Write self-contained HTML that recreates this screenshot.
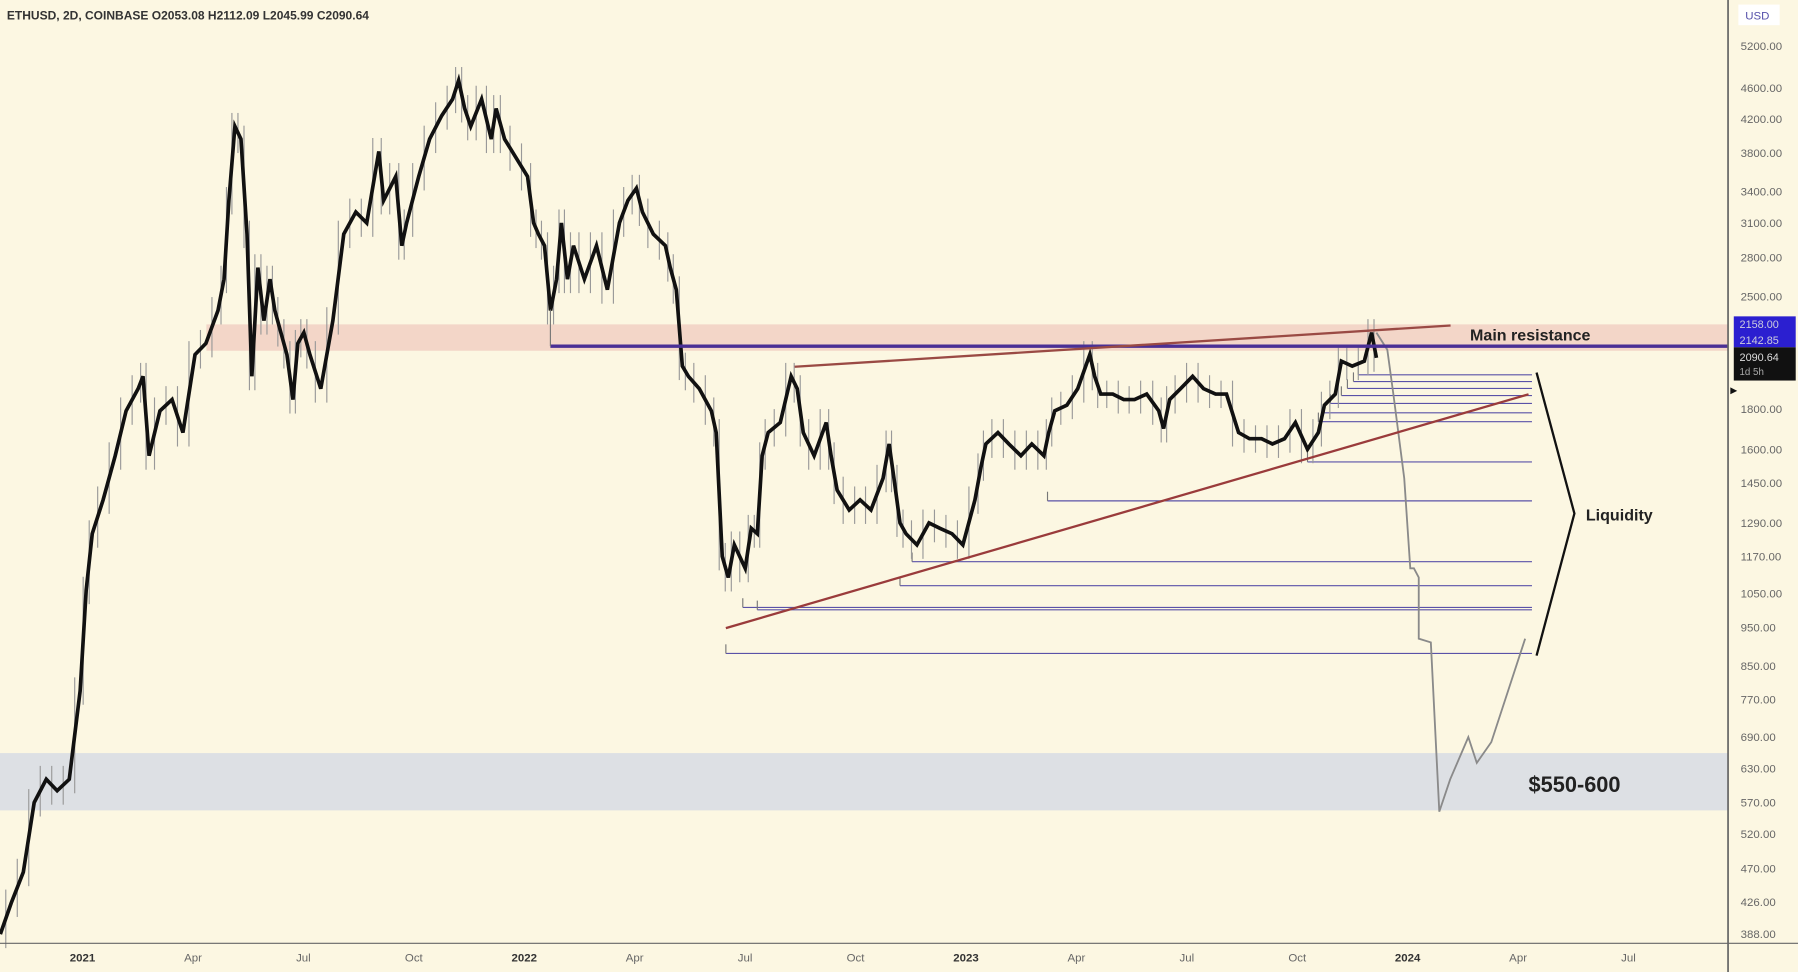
<!DOCTYPE html>
<html><head><meta charset="utf-8"><style>
html,body{margin:0;padding:0;background:#fcf7e2;}
svg{display:block;}
text{font-family:"Liberation Sans",sans-serif;}
</style></head><body>
<svg id="chart" width="1798" height="972" viewBox="0 0 1568 848" preserveAspectRatio="none" xmlns="http://www.w3.org/2000/svg">
<rect x="0" y="0" width="1568" height="848" fill="#fcf7e2"/>
<rect x="180" y="283" width="1327" height="23" fill="#f3d6c8"/>
<rect x="0" y="657" width="1507" height="50" fill="#dde0e4"/>
<g id="marks"></g>
<g id="annot">
<line x1="480" y1="302" x2="1507" y2="302" stroke="#4a2f95" stroke-width="3"/>
<line x1="480" y1="270" x2="480" y2="302" stroke="#777" stroke-width="1"/>
<line x1="693" y1="320" x2="1265" y2="284" stroke="#9a4a44" stroke-width="2"/>
<line x1="633" y1="548" x2="1333" y2="344" stroke="#9a3b3b" stroke-width="2"/>
<polyline points="1340,325 1373,448 1340,572" fill="none" stroke="#111" stroke-width="2"/>
<text x="1282" y="297" font-size="14" font-weight="bold" fill="#222">Main resistance</text>
<text x="1383" y="454" font-size="14" font-weight="bold" fill="#222">Liquidity</text>
<text x="1333" y="691" font-size="19" font-weight="bold" fill="#222">$550-600</text>
</g>
<line x1="1507" y1="0" x2="1507" y2="848" stroke="#666" stroke-width="1.5"/>
<line x1="0" y1="823" x2="1568" y2="823" stroke="#666" stroke-width="1"/>
<g id="yaxis"></g>
<g id="xaxis"></g>
<rect x="1516" y="4" width="36" height="18" fill="#fff"/>
<text x="1522" y="17" font-size="10" fill="#5550aa">USD</text>
<rect x="1512" y="276" width="54" height="27" fill="#2b1fd0"/>
<text x="1517" y="286" font-size="9.5" fill="#ccd">2158.00</text>
<text x="1517" y="300" font-size="9.5" fill="#ccd">2142.85</text>
<rect x="1512" y="303" width="54" height="29" fill="#111"/>
<text x="1517" y="315" font-size="9.5" fill="#ddd">2090.64</text>
<text x="1517" y="327" font-size="8.5" fill="#aaa">1d 5h</text>
<polygon points="1509,338 1515,341 1509,344" fill="#111"/>
<text x="6" y="17" font-size="10.5" font-weight="bold" fill="#333">ETHUSD, 2D, COINBASE  O2053.08  H2112.09  L2045.99  C2090.64</text>
</svg>
<script>
const days=[-68,-59,-49,-40,-30,-21,-11,-2,3,8,17,27,36,46,50,55,64,74,83,93,102,112,117,121,126,131,136,140,145,150,155,159,164,169,174,178,183,188,197,207,216,226,235,245,249,259,264,268,278,287,297,306,311,316,321,330,338,342,349,358,368,373,377,382,387,392,396,401,406,415,425,434,444,451,458,463,472,482,486,491,496,501,510,520,524,529,534,539,548,553,558,562,567,577,586,591,596,605,615,619,624,634,643,652,662,667,671,676,681,690,700,709,719,728,738,743,747,757,766,776,785,795,799,804,814,823,833,837,842,852,861,870,880,890,894,899,908,918,927,937,946,956,965,975,984,994,1003,1013,1022,1027,1036,1041,1050,1060,1066,1070];
const closes=[388,425,465,570,610,590,610,790,1060,1250,1380,1570,1790,1910,1980,1570,1790,1850,1680,2110,2180,2400,2630,3310,4110,3960,3000,1980,2720,2330,2630,2400,2250,2110,1850,2180,2250,2110,1910,2330,3000,3200,3100,3820,3310,3550,2900,3100,3550,3960,4240,4450,4700,4330,4110,4450,3960,4330,3960,3760,3550,3100,3000,2900,2400,2630,3100,2630,2900,2630,2900,2550,3100,3310,3430,3200,3000,2900,2720,2550,2040,1980,1910,1790,1680,1170,1100,1210,1130,1270,1250,1570,1680,1730,1980,1910,1680,1570,1730,1570,1420,1340,1380,1340,1470,1625,1470,1290,1250,1210,1290,1270,1250,1210,1380,1520,1625,1680,1625,1570,1625,1570,1680,1790,1820,1910,2110,1980,1880,1880,1850,1850,1880,1790,1700,1850,1910,1980,1910,1880,1880,1680,1650,1650,1625,1650,1730,1600,1680,1820,1880,2070,2040,2070,2250,2090];
const projDays=[1070,1079,1084,1093,1098,1101,1105,1105,1115,1122,1131,1146,1153,1165,1193];
const projPrices=[2250,2140,1880,1470,1130,1130,1100,920,910,555,610,690,640,680,920];
const liqStartDays=[1055,1051,1046,1041,1032,1027,1022,1013,798,686,676,546,558,532];
const liqPrices=[1989,1950,1911,1872,1829,1780,1734,1542,1376,1152,1074,1008,1001,881];
const yTicks=[5200,4600,4200,3800,3400,3100,2800,2500,1800,1600,1450,1290,1170,1050,950,850,770,690,630,570,520,470,426,388];
const xTickMonths=[0,3,6,9,12,15,18,21,24,27,30,33,36,39,42];
const xTickLabels=["2021","Apr","Jul","Oct","2022","Apr","Jul","Oct","2023","Apr","Jul","Oct","2024","Apr","Jul"];
const NS="http://www.w3.org/2000/svg";
function yS(p){return 40+(Math.log(5200)-Math.log(p))*298.6;}
function xS(d){return 72+d*32.1/30.44;}
function xM(m){return 72+m*32.1;}
const marks=document.getElementById('marks');
liqPrices.forEach((p,i)=>{
 const x0=xS(liqStartDays[i]),y=yS(p);
 const l=document.createElementNS(NS,'line');
 
 
 l.setAttribute('x1',x0);l.setAttribute('x2',1336);l.setAttribute('y1',y);l.setAttribute('y2',y);
 l.setAttribute('stroke','#5a52a8');l.setAttribute('stroke-width','1');
 marks.appendChild(l);
 const t=document.createElementNS(NS,'line');
 
 
 t.setAttribute('x1',x0);t.setAttribute('x2',x0);t.setAttribute('y1',y-8);t.setAttribute('y2',y);
 t.setAttribute('stroke','#777');t.setAttribute('stroke-width','1');
 marks.appendChild(t);
});
const pj=document.createElementNS(NS,'polyline');


pj.setAttribute('points',projDays.map((d,i)=>xS(d)+','+yS(projPrices[i])).join(' '));
pj.setAttribute('fill','none');pj.setAttribute('stroke','#8a8a8a');pj.setAttribute('stroke-width','1.6');
marks.appendChild(pj);
for(let i=1;i<closes.length;i++){
 const w=document.createElementNS(NS,'line');
 
 
 const x=xS((days[i]+days[i-1])/2);
 const hi=Math.max(closes[i],closes[i-1])*1.04, lo=Math.min(closes[i],closes[i-1])*0.96;
 w.setAttribute('x1',x);w.setAttribute('x2',x);w.setAttribute('y1',yS(hi));w.setAttribute('y2',yS(lo));
 w.setAttribute('stroke','#999');w.setAttribute('stroke-width','1');
 marks.appendChild(w);
}
const pl=document.createElementNS(NS,'polyline');


pl.setAttribute('points',days.map((d,i)=>xS(d)+','+yS(closes[i])).join(' '));
pl.setAttribute('fill','none');pl.setAttribute('stroke','#111');pl.setAttribute('stroke-width','3.2');pl.setAttribute('stroke-linejoin','miter');
marks.appendChild(pl);
const ya=document.getElementById('yaxis');
yTicks.forEach(v=>{
 const t=document.createElementNS(NS,'text');
 
 
 t.setAttribute('x',1518);t.setAttribute('y',yS(v)+3.5);t.setAttribute('font-size','10');t.setAttribute('fill','#666');
 t.textContent=v.toFixed(2);ya.appendChild(t);
});
const xa=document.getElementById('xaxis');
xTickMonths.forEach((m,i)=>{
 const t=document.createElementNS(NS,'text');
 
 
 t.setAttribute('x',xM(m));t.setAttribute('y',839);t.setAttribute('font-size','10');t.setAttribute('text-anchor','middle');
 const yr=xTickLabels[i].length===4;
 t.setAttribute('fill',yr?'#333':'#666');if(yr)t.setAttribute('font-weight','bold');
 t.textContent=xTickLabels[i];xa.appendChild(t);
});
</script>
</body></html>
